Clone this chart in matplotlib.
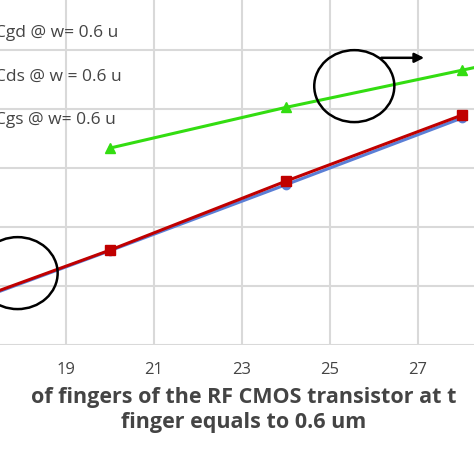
import matplotlib
matplotlib.use("Agg")
import matplotlib.pyplot as plt
from matplotlib.patches import Ellipse

fingers = [16, 20, 24, 28]
cgs = [0.50, 1.60, 2.72, 3.85]
cgd = [0.52, 1.61, 2.78, 3.90]
cds_x = [20, 24, 28, 30]
cds = [3.34, 4.03, 4.66, 4.98]
xticks = [19, 21, 23, 25, 27]
legend_texts = ["Cgd @ w= 0.6 u", "Cds @ w = 0.6 u", "Cgs @ w= 0.6 u"]

plt.rcParams['font.family'] = ['Open Sans', 'DejaVu Sans']
fig = plt.figure(figsize=(4.74, 4.74), dpi=100)
ax = fig.add_axes([0, 0.272, 1, 0.728])
ax.set_xlim(17.5, 28.27)
ax.set_ylim(0, 5.85)
for s in ax.spines.values():
    s.set_visible(False)
ax.set_xticks(xticks)
ax.set_yticks([0, 1, 2, 3, 4, 5])
ax.set_yticklabels([])
ax.tick_params(length=0, labelsize=12, labelcolor="#444444", pad=12)
ax.grid(True, color="#d9d9d9", lw=1.5)
ax.set_axisbelow(True)

ax.plot(fingers, cgs, color="#5b7fd6", lw=2.2, marker="o", ms=6, zorder=3)
ax.plot(fingers, cgd, color="#c00000", lw=2.2, marker="s", ms=7, zorder=4)
ax.plot(cds_x, cds, color="#33dd11", lw=2.2, marker="^", ms=7, zorder=3)

for i, t in enumerate(legend_texts):
    ax.text(-0.01, 0.905 - i * 0.127, t, transform=ax.transAxes,
            fontsize=12.5, color="#444444", va="center", ha="left")

ax.add_patch(Ellipse((25.55, 4.39), 1.82, 1.22, fill=False, ec="black", lw=1.8, zorder=5))
ax.add_patch(Ellipse((17.9, 1.22), 1.82, 1.22, fill=False, ec="black", lw=1.8, zorder=5))
ax.annotate("", xy=(27.2, 4.87), xytext=(26.1, 4.87),
            arrowprops=dict(arrowstyle="-|>", color="black", lw=1.8, mutation_scale=14))

fig.text(0.515, 0.135, "of fingers of the RF CMOS transistor at t\nfinger equals to 0.6 um",
         ha="center", va="center", fontsize=15.5, fontweight="bold", color="#444444",
         linespacing=1.25)
fig.savefig("out.png", dpi=100)
